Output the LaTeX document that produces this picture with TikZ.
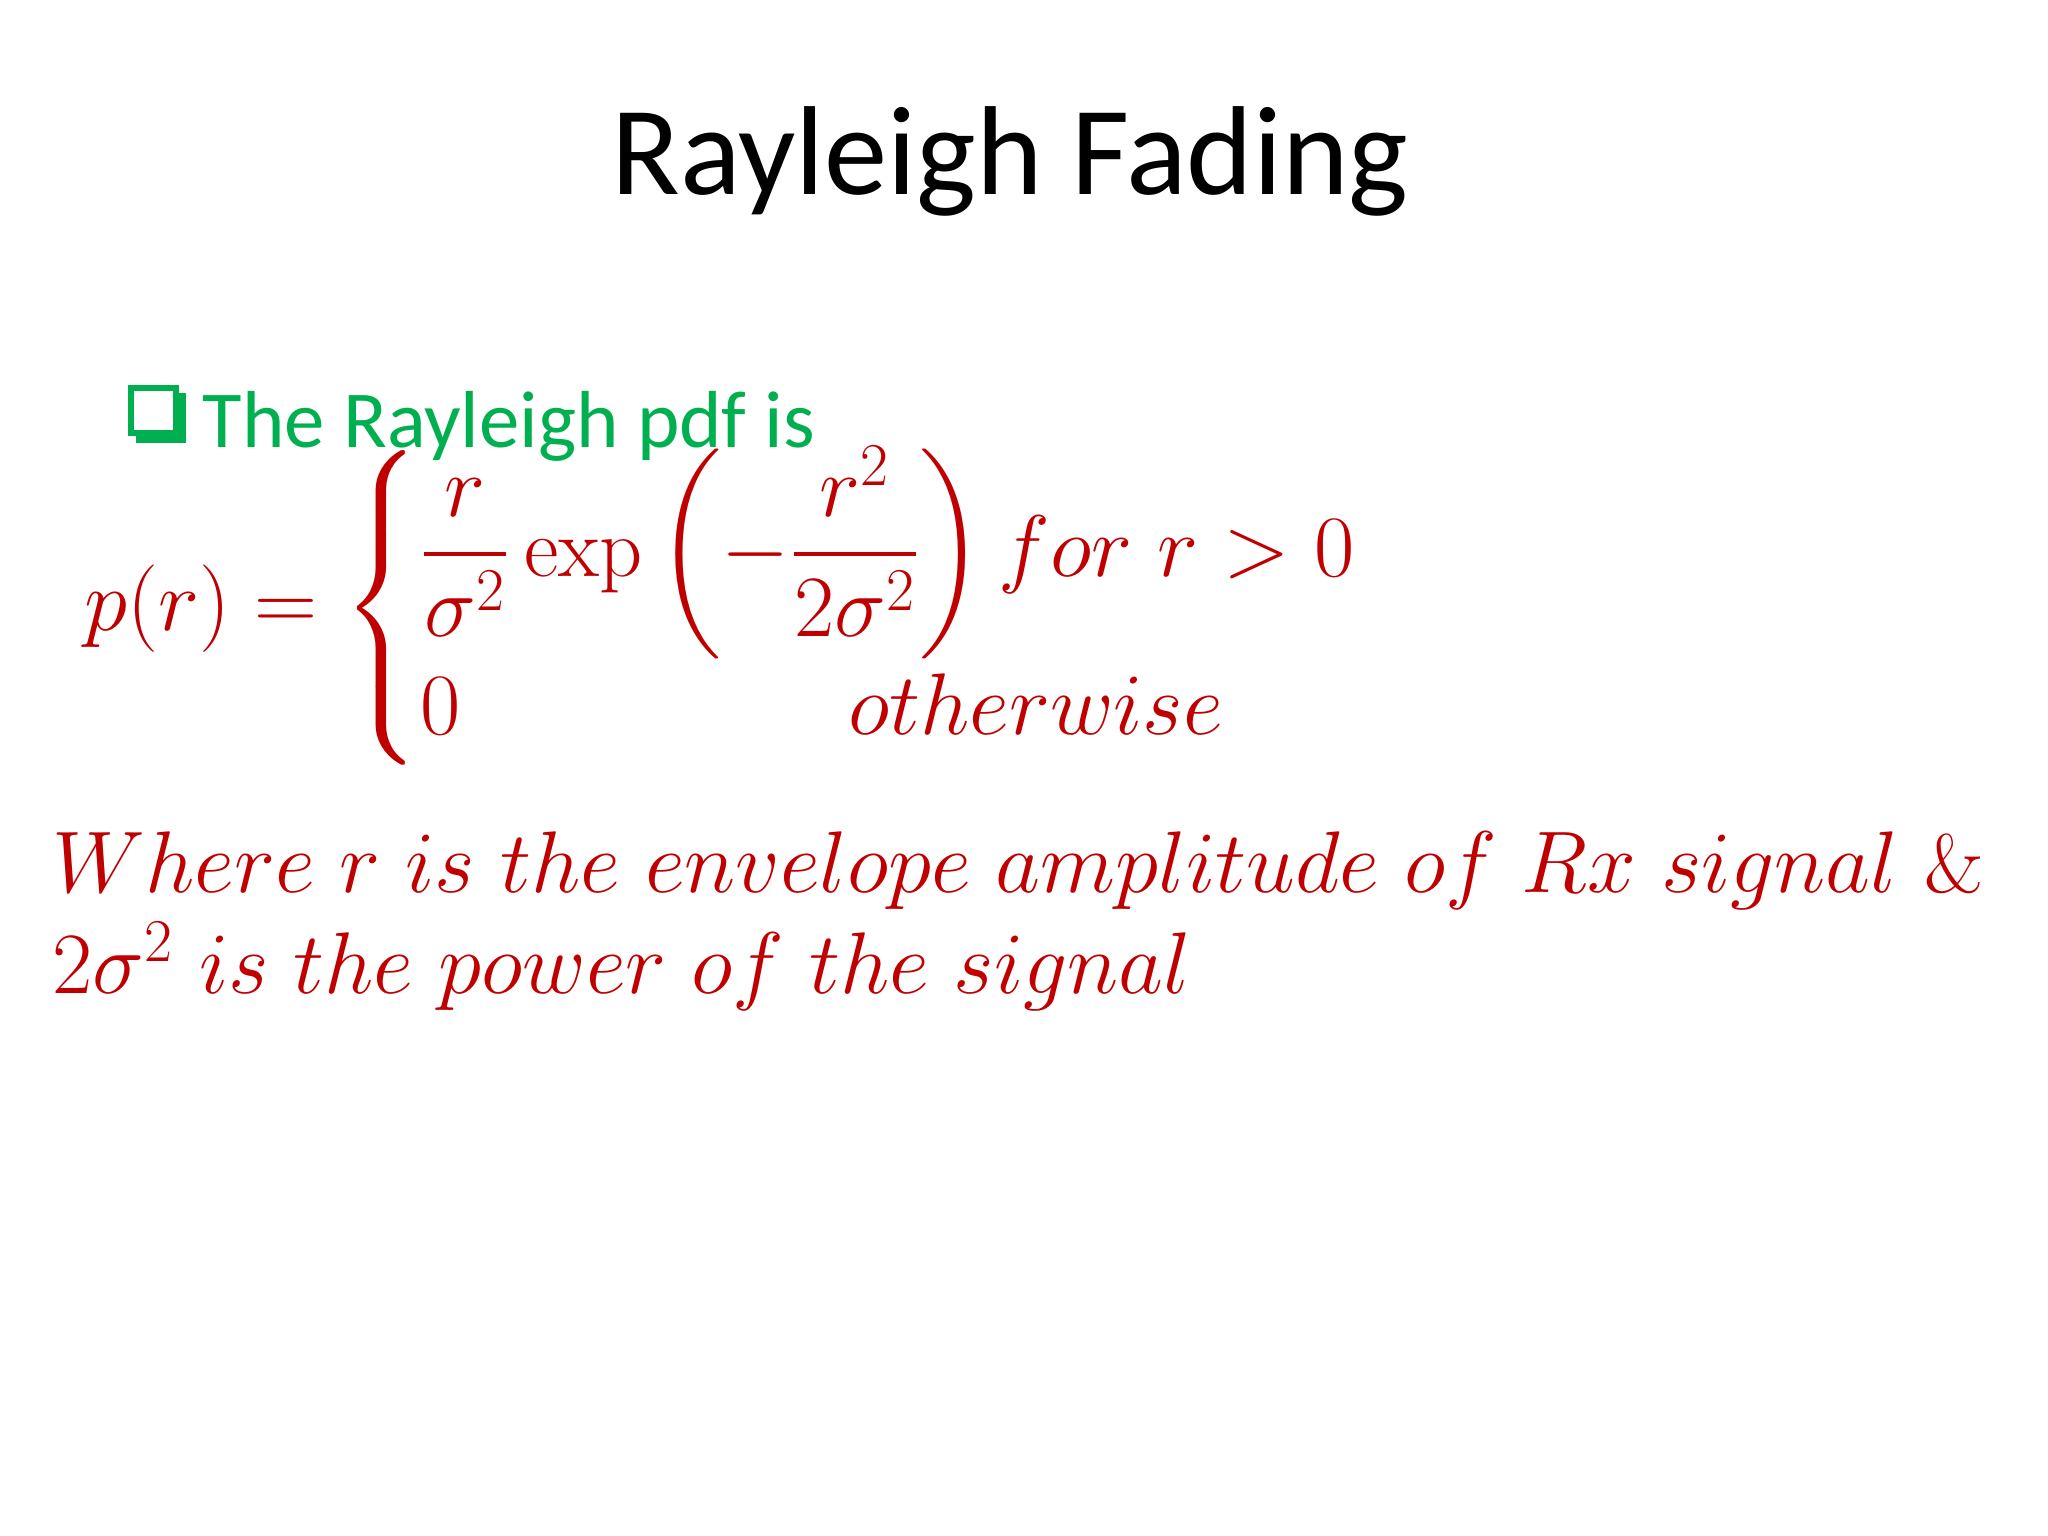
\documentclass[tikz,border=0pt]{standalone}
\usepackage{fontspec}
\usepackage{amsmath}
\newfontfamily\calib{Carlito}
\definecolor{eqred}{HTML}{C00000}
\definecolor{bgreen}{HTML}{00B050}
\begin{document}
\begin{tikzpicture}[x=0.01cm,y=-0.01cm]
\useasboundingbox (0,0) rectangle (2048,1536);
\tikzset{txt/.style={inner sep=0pt,anchor=base west}}
\node[inner sep=0pt,anchor=base] (title) at (1010,194) {\calib\fontsize{36}{40}\selectfont Rayleigh Fading};
% bullet box
\fill[bgreen] (136,393) rectangle (186,443);
\fill[white] (131,388) rectangle (176,433);
\draw[bgreen,line width=1.6pt] (131,388) rectangle (176,433);
\node[txt,text=bgreen] (bul) at (202,447) {\calib\fontsize{23}{28}\selectfont The Rayleigh pdf is};
\node[txt,text=eqred] (eq) at (84,630) {\fontsize{24}{28}\selectfont
$p(r)=\begin{cases}\dfrac{r}{\sigma^2}\exp\left(-\dfrac{r^2}{2\sigma^2}\right) for\ r>0\\[-2pt]
0\hspace{4.6em} otherwise\end{cases}$};
\node[txt,text=eqred] (w1) at (52,892) {\fontsize{23.5}{28}\selectfont $Where\ r\ is\ the\ envelope\ amplitude\ of\ Rx\ signal\ \&$};
\node[txt,text=eqred] (w2) at (52,993) {\fontsize{23.5}{28}\selectfont $2\sigma^2\ is\ the\ power\ of\ the\ signal$};
\end{tikzpicture}
\end{document}
